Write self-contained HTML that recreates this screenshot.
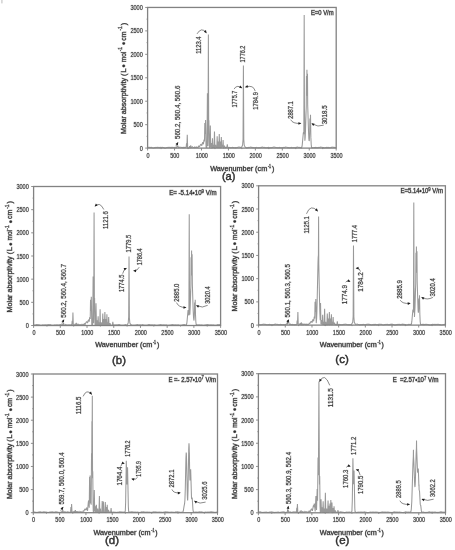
<!DOCTYPE html>
<html><head><meta charset="utf-8"><title>IR spectra</title>
<style>html,body{margin:0;padding:0;background:#fff;width:455px;height:550px;overflow:hidden}svg{display:block}</style>
</head><body>
<svg width="455" height="550" viewBox="0 0 455 550" font-family="'Liberation Sans', Arial, sans-serif" fill="#303030"><rect width="455" height="550" fill="#fff"/>
<rect x="1.2" y="0" width="1.4" height="3.4" fill="#cfcfcf"/>
<polyline points="147.6,147.63 148.35,147.36 149.16,147.51 149.92,147.22 150.64,147.48 151.43,147.38 152.18,147.79 152.93,147.69 153.69,147.95 154.47,147.61 155.25,147.66 156.01,147.27 156.73,147.43 157.51,147.23 158.24,147.54 159.02,147.39 159.78,147.63 160.51,147.34 161.31,147.49 162.07,147.24 162.85,147.57 163.63,147.5 164.36,147.88 165.11,147.72 165.81,147.9 166.62,147.51 167.4,147.55 168.21,147.19 168.94,147.42 169.72,147.26 170.5,147.59 171.2,147.4 172.01,147.61 172.76,147.3 173.55,147.49 174.25,147.3 175,147.66 175.73,147.59 176.21,147.8 176.91,146.7 177.13,146.79 177.43,147.26 177.83,145.52 178.34,147.67 178.85,147.37 179.5,147.46 179.93,147.07 181.12,147.44 181.93,147.32 182.63,147.63 183.41,147.41 184.19,147.59 184.94,147.29 185.78,147.52 186.18,147.41 186.51,143.41 186.86,147.52 187.26,134.88 187.69,147.7 188.04,147.68 188.71,147.94 189.23,147.73 189.63,146.22 190.01,147.68 190.33,147.65 190.71,145.29 191,147.26 191.71,147.38 192.03,147.32 192.33,146.32 192.57,147.15 193.27,147.48 194.18,147.38 194.48,146.79 194.88,147.66 195.56,147.41 195.99,147.5 196.37,146.6 196.72,147.44 197.17,147.31 198.04,147.58 198.58,146.36 198.79,146.13 199.01,146.36 199.3,147.12 200.33,144.94 200.73,144.4 200.95,144.36 201.19,144.52 201.81,145.64 202.37,143.23 202.7,142.51 202.86,142.51 203.02,142.76 203.45,144.24 203.86,140.65 204.1,139.67 204.29,140.03 204.5,141.49 204.8,123.04 205.04,134 205.2,131.22 205.37,133.46 205.58,119.97 206.01,146.04 206.09,147.39 206.82,147.64 207.06,138.32 207.41,93.25 207.9,145.93 208.06,128.53 208.38,34.6 208.71,128.53 208.89,120.26 209.19,141.63 209.38,147.35 209.86,147.59 209.95,146.61 210.32,125.5 210.62,143.89 210.78,147.55 211.29,142.94 211.72,147.4 211.83,147.87 212.07,147.67 212.48,138.21 212.88,147.67 213.02,147.81 213.13,147.66 213.56,144.82 213.93,147.36 214.07,147.36 214.47,131.41 214.88,147.34 215.25,147.14 215.6,144.82 215.98,147.33 216.79,147.26 217.17,136.38 217.57,147.59 217.81,147.63 217.87,147.21 218.19,141.54 218.54,147.47 218.84,147.58 219.27,134.03 219.67,147.48 220,147.37 220.02,147.21 220.35,141.54 220.67,147.21 220.72,147.58 220.91,147.55 221.32,136.97 221.64,146.59 221.69,147.37 221.83,147.53 222.23,144.82 222.72,147.57 223.09,139.99 223.42,147 223.52,147.85 223.66,147.9 223.88,147.59 224.44,145.76 225.06,147.68 225.38,147.65 226.08,147.24 226.89,147.34 227.3,144.35 227.65,147.1 228.29,147.43 229.1,147.35 229.88,147.69 230.64,147.48 231.42,147.66 232.2,147.37 232.87,147.6 233.66,147.45 234.44,147.8 235.19,147.65 235.95,147.87 236.73,147.5 237.51,147.54 238.32,147.14 239.02,147.32 239.8,147.16 240.58,147.54 241.39,147.45 242.57,145.32 243.03,139.44 243.06,137.61 243.41,65.59 243.79,139.44 244.22,145.18 245.21,147.18 245.54,147.56 245.91,147.52 246.67,147.85 247.4,147.64 248.15,147.79 248.91,147.38 249.66,147.43 250.47,147.08 251.2,147.34 251.98,147.24 252.73,147.63 253.49,147.5 254.21,147.75 254.99,147.46 255.78,147.63 256.53,147.39 257.26,147.69 258.04,147.56 258.87,147.86 259.57,147.59 260.36,147.67 261.11,147.25 261.86,147.34 262.62,147.08 263.4,147.41 264.18,147.35 264.94,147.72 265.69,147.54 266.47,147.74 267.23,147.43 268.01,147.62 268.68,147.42 269.46,147.74 270.24,147.59 270.97,147.83 271.78,147.49 272.56,147.54 273.34,147.14 274.04,147.3 274.82,147.13 275.55,147.51 276.33,147.45 277.11,147.79 277.87,147.56 278.65,147.72 279.43,147.41 280.16,147.64 280.94,147.46 281.72,147.78 282.42,147.59 283.2,147.76 283.93,147.38 284.71,147.43 285.52,147.08 286.25,147.32 287,147.22 287.76,147.63 288.54,147.54 289.29,147.82 290.07,147.54 290.86,147.68 291.58,147.4 292.34,147.65 293.15,147.5 293.85,147.79 294.63,147.55 295.33,147.68 296.14,147.26 296.92,147.35 297.67,147.07 298.45,147.4 299.21,147.34 299.96,147.74 300.72,147.6 301.52,147.8 301.93,146.81 302.25,144.87 303.3,133.14 303.44,132.61 303.57,132.62 303.84,134.16 304.19,14.95 304.46,112.09 304.52,110.59 304.6,113.88 304.87,140.77 305.16,137.73 305.46,131.7 306.24,106.43 306.46,76.07 306.62,95.83 306.78,93.1 306.94,69.8 307.1,92.07 307.32,94.77 307.48,73.72 307.69,104.67 308.53,131.95 308.85,138.64 309.12,141.04 309.26,140.79 309.39,139.4 309.66,133.33 309.88,118.45 310.04,123 310.2,121.27 310.36,122.31 310.5,114.81 310.87,137.13 311.2,144.49 311.57,147.53 312.19,147.83 312.92,147.62 313.7,147.78 314.46,147.45 315.24,147.62 315.91,147.4 316.69,147.7 317.47,147.52 318.23,147.73 318.96,147.39 319.76,147.45 320.57,147.1 321.3,147.33 322.06,147.21 322.78,147.62 323.56,147.57 324.35,147.88 325.1,147.61 325.88,147.73 326.64,147.4 327.39,147.61 328.17,147.42 328.9,147.71 329.68,147.5 330.41,147.66 331.16,147.29 331.94,147.38 332.72,147.09 333.48,147.39 334.26,147.34 335.01,147.76 335.74,147.64 336.2,147.81" fill="none" stroke="#999999" stroke-width="1.05" stroke-linejoin="miter" stroke-miterlimit="2"/>
<polyline points="33.6,324.89 34.32,325.14 35.04,324.86 35.82,324.95 36.57,324.57 37.31,324.73 38.03,324.54 38.81,324.93 39.56,324.89 40.41,325.27 41.11,325.06 41.85,325.21 42.63,324.86 43.4,325.01 44.07,324.78 44.85,325.06 45.62,324.89 46.4,325.1 47.09,324.78 47.87,324.87 48.69,324.52 49.39,324.75 50.16,324.64 50.88,325.05 51.66,325 52.41,325.31 53.18,325.04 53.96,325.15 54.73,324.8 55.4,324.99 56.17,324.78 56.92,325.07 57.7,324.87 58.44,325.05 59.19,324.7 59.97,324.8 60.69,324.52 61.49,324.83 62.24,324.76 62.72,324.11 63.17,324.67 63.57,322.95 64.08,325.08 64.32,325.29 64.64,325.28 65.12,325.02 65.66,324.48 66.19,325.02 66.81,324.75 67.53,324.98 68.3,324.8 69.02,325.08 69.8,324.84 70.52,324.98 71.29,324.62 71.85,324.74 72.18,320.87 72.47,324.64 72.63,323.07 72.92,312.43 73.32,324.82 73.67,324.95 74.31,324.89 74.87,325.18 75.27,323.65 75.65,325.1 75.97,325.12 76.34,322.72 76.74,325.22 77.28,324.91 77.63,324.91 77.95,323.74 78.29,324.94 78.88,324.72 79.71,324.98 80.08,324.2 80.4,324.81 81.23,325.05 81.61,324.86 81.95,324.02 82.33,324.87 82.7,324.89 83.37,324.58 83.8,324.68 84.14,323.78 84.36,323.55 85,324.66 86.09,322.37 86.49,321.84 86.71,321.8 86.95,321.96 87.56,323.07 88.12,320.68 88.44,319.97 88.6,319.97 88.77,320.22 89.19,321.68 89.59,318.14 89.83,317.17 90.02,317.53 90.23,318.97 90.53,299.83 90.77,311.06 90.93,308.21 91.09,310.5 91.3,296.68 91.76,323.99 91.84,324.99 92.56,324.83 92.77,316.74 93.12,276.39 93.6,323.34 93.76,306.03 94.08,212.59 94.4,306.03 94.59,297.98 94.88,319.1 95.07,324.71 95.58,324.57 95.63,324.04 96,303.21 96.43,324.84 96.57,324.62 96.97,320.4 97.39,324.81 97.45,325.04 97.71,325.18 97.74,325.09 98.14,316.23 98.54,325.09 98.76,325.16 98.78,325.06 99.21,322.26 99.66,325.16 99.82,322.46 100.12,309.19 100.41,322.46 100.57,325.09 100.81,325.06 101.24,322.26 101.61,324.72 102.39,324.89 102.79,313.59 103.16,324.72 103.46,324.88 103.81,319.01 104.15,324.88 104.47,324.82 104.87,312.02 105.3,325 105.59,324.88 105.94,319.01 106.26,324.62 106.53,324.76 106.9,314.19 107.28,324.65 107.47,324.6 107.81,322.26 108.19,324.8 108.29,324.94 108.67,317.02 109.01,324.69 109.04,324.89 109.42,325.07 110,323.18 110.62,325.13 111.31,325.3 112.03,324.93 112.41,324.93 112.83,321.79 113.24,324.81 113.66,324.66 114.41,324.9 115.11,324.73 115.85,325.03 116.63,324.8 117.4,324.96 118.12,324.64 118.9,324.83 119.59,324.66 120.37,325.05 121.14,325 121.94,325.35 122.67,325.1 123.41,325.21 124.16,324.81 124.94,324.9 125.63,324.63 126.59,324.91 127.21,324.74 128.2,323.1 128.68,316.72 129.02,256.42 129.4,317.97 129.85,323.1 130.87,324.77 131.03,324.88 131.72,324.77 132.47,325.17 133.24,325.09 133.97,325.36 134.77,325.03 135.54,325.08 136.26,324.7 137.01,324.85 137.73,324.63 138.51,324.95 139.28,324.79 140.03,325.03 140.75,324.75 141.55,324.9 142.33,324.65 143.08,324.96 143.85,324.89 144.57,325.28 145.32,325.13 146.01,325.32 146.82,324.93 147.59,324.98 148.39,324.61 149.06,324.82 149.83,324.66 150.58,324.99 151.38,324.81 152.08,325.02 152.85,324.72 153.63,324.9 154.38,324.7 155.12,325.05 155.9,324.99 156.7,325.34 157.42,325.11 158.17,325.22 158.92,324.8 159.66,324.87 160.44,324.57 161.19,324.84 161.99,324.72 162.71,325.03 163.46,324.82 164.23,324.99 164.95,324.7 165.73,324.93 166.45,324.77 167.2,325.15 167.97,325.06 168.72,325.35 169.5,325.04 170.27,325.09 171.02,324.68 171.77,324.8 172.46,324.57 173.24,324.88 174.04,324.77 174.76,325.06 175.56,324.81 176.33,324.98 177.08,324.71 177.8,324.98 178.58,324.87 179.33,325.25 180.07,325.1 180.77,325.31 181.6,324.93 182.37,324.96 183.12,324.58 183.84,324.77 184.62,324.61 185.39,324.96 186.03,324.82 186.41,324.89 186.73,323.73 186.99,321.85 188.04,310.44 188.2,310.13 188.36,310.6 188.86,315.39 188.89,314.86 189.24,214.21 189.48,289.37 189.5,289.92 189.58,288.81 189.64,291.69 189.85,314.72 190.25,306.32 190.89,285.63 191.08,257.27 191.27,275.48 191.43,272.87 191.59,250.58 191.75,271.89 191.96,274.47 192.12,254.33 192.34,283.94 193.19,310.74 193.51,317.13 193.83,320.12 193.91,320.21 193.97,320.1 194.1,319.2 194.39,314.18 194.61,302.59 194.77,306.15 194.93,304.8 195.09,305.58 195.22,299.79 195.52,315.07 195.86,322.04 196.21,324.75 196.66,324.67 197.41,325.02 198.21,324.86 198.91,325.08 199.68,324.79 200.46,324.98 201.21,324.79 201.95,325.13 202.73,325.02 203.48,325.32 204.25,325.03 205,325.1 205.77,324.67 206.49,324.77 207.22,324.52 208.02,324.84 208.82,324.76 209.54,325.09 210.29,324.88 211.06,325.06 211.84,324.78 212.51,325 213.28,324.85 214.06,325.2 214.8,325.06 215.52,325.28 216.33,324.93 217.1,324.96 217.88,324.56 218.6,324.73 219.32,324.55 220.09,324.93 220.6,324.85" fill="none" stroke="#999999" stroke-width="1.05" stroke-linejoin="miter" stroke-miterlimit="2"/>
<polyline points="258.6,324.66 259.21,324.54 260.01,324.88 260.73,324.66 261.46,324.8 262.23,324.38 263,324.43 263.78,324.1 264.52,324.37 265.3,324.27 266.05,324.64 266.77,324.49 267.54,324.72 268.26,324.43 269.03,324.61 269.78,324.4 270.53,324.72 271.3,324.6 272.08,324.89 272.82,324.6 273.57,324.67 274.34,324.24 275.07,324.35 275.81,324.1 276.59,324.44 277.36,324.36 278.11,324.72 278.85,324.52 279.63,324.7 280.4,324.41 281.12,324.62 281.87,324.45 282.59,324.78 283.36,324.63 284.16,324.85 284.89,324.5 285.66,324.54 286.38,324.15 287.23,324.31 287.5,323.77 288.03,320.8 288.27,320.22 288.51,320.8 289.24,324.44 290.01,324.74 290.62,324.08 291.1,324.54 291.58,324.69 292.44,324.4 293.18,324.65 293.96,324.5 294.71,324.82 295.43,324.62 296.09,324.78 296.44,324.68 296.81,324.43 297.13,320.46 297.48,324.43 297.88,312.01 298.25,324.15 298.58,324.1 299.24,324.34 299.96,324.24 300.23,323.24 300.58,324.59 300.92,324.64 301.3,322.31 301.64,324.57 302.07,324.77 302.52,324.71 302.9,323.34 303.22,324.53 303.57,324.65 304.42,324.41 304.71,324.45 305.03,323.8 305.43,324.67 305.97,324.53 306.45,324.73 306.9,323.61 307.3,324.62 308.4,324.63 308.66,324.45 309.25,323.16 309.46,323.28 309.73,323.89 310.61,321.97 311.04,321.42 311.25,321.4 311.49,321.59 312.08,322.66 312.64,320.27 312.99,319.54 313.15,319.58 313.31,319.87 313.71,321.27 314.11,317.72 314.35,316.75 314.53,317.11 314.75,318.56 315.04,301.77 315.28,311.98 315.44,309.39 315.6,311.47 315.81,298.91 316.24,323.11 316.61,318.91 316.93,311.32 317.98,263.63 318.19,257.32 318.43,255.08 318.59,216.45 318.78,263.63 319.5,298.96 319.84,312.13 320.22,320.15 320.54,303.03 320.94,324.21 321.1,324 321.47,319.99 321.87,324.22 322.01,324.29 322.3,324.11 322.65,314.7 323.02,324.34 323.31,324.5 323.71,321.85 324.09,324.4 324.19,324.49 324.22,324.38 324.62,308.71 324.91,322.05 325.07,324.79 325.31,324.66 325.74,321.85 326.19,324.75 326.89,324.52 327.29,313.58 327.69,324.59 327.93,324.63 327.98,324.22 328.3,318.6 328.62,324.22 328.65,324.44 328.97,324.53 329.37,312.1 329.8,324.65 330.09,324.48 330.44,318.6 330.76,324.22 330.84,324.75 331,324.62 331.4,314.16 331.77,324.37 331.93,324.38 332.31,321.85 332.65,324.23 332.68,324.33 332.81,324.25 333.16,317.11 333.48,324.02 333.51,324.18 333.83,324.31 334.01,324.33 334.49,322.78 335,324.39 335.43,324.64 336.18,324.56 336.82,324.84 337.32,321.39 337.75,324.58 338.36,324.72 339.24,324.41 339.96,324.64 340.74,324.46 341.46,324.76 342.23,324.52 342.95,324.67 343.73,324.28 344.47,324.37 345.22,324.09 346.02,324.41 346.77,324.35 347.54,324.77 348.26,324.63 349.04,324.86 349.84,324.53 350.56,324.66 351.17,324.4 351.52,324.43 352.69,322.3 353.12,316.86 353.15,314.99 353.49,245.56 353.87,316.86 354.29,322.3 355.34,324.26 355.44,324.36 355.92,324.18 356.59,324.33 357.31,324.13 358.03,324.5 358.8,324.47 359.63,324.86 360.35,324.66 361.07,324.82 361.82,324.48 362.59,324.62 363.31,324.38 364.09,324.66 364.86,324.49 365.64,324.71 366.38,324.38 367.16,324.47 367.93,324.12 368.63,324.34 369.4,324.22 370.12,324.64 370.89,324.59 371.67,324.91 372.41,324.64 373.19,324.75 373.96,324.41 374.63,324.59 375.4,324.38 376.15,324.67 376.92,324.47 377.67,324.66 378.42,324.31 379.19,324.4 379.94,324.11 380.71,324.41 381.49,324.35 382.23,324.77 382.98,324.67 383.7,324.91 384.5,324.58 385.28,324.67 385.97,324.36 386.74,324.58 387.52,324.4 388.29,324.68 388.96,324.45 389.73,324.59 390.51,324.23 391.28,324.37 391.98,324.15 392.8,324.52 393.55,324.48 394.35,324.88 395.04,324.7 395.79,324.87 396.54,324.51 397.31,324.61 398.06,324.32 398.78,324.57 399.55,324.41 400.35,324.67 401.08,324.39 401.88,324.51 402.62,324.17 403.34,324.38 404.12,324.24 404.84,324.64 405.61,324.6 406.36,324.94 407.13,324.68 407.88,324.79 408.68,324.41 409.37,324.55 410.15,324.31 410.84,324.59 411.22,324.53 411.54,323.46 411.83,321.44 412.84,310.13 412.98,309.71 413.14,309.92 413.46,312.32 413.8,202.38 414.04,285.26 414.07,289.44 414.12,287.95 414.2,291.21 414.47,317 415,307.24 415.73,283.27 415.94,252.78 416.1,272.62 416.26,269.88 416.42,246.49 416.58,268.85 416.79,271.56 416.98,251.18 417.17,281.49 418.07,309.79 418.29,312.38 418.39,312.54 418.5,311.91 418.74,308 418.9,298.63 419.03,301.95 419.22,300.42 419.38,301.65 419.51,295.38 419.86,314.48 420.18,321.48 420.53,324.38 420.82,324.33 421.46,324.51 422.18,324.31 422.93,324.61 423.7,324.41 424.43,324.61 425.2,324.28 425.97,324.43 426.72,324.19 427.49,324.53 428.27,324.48 428.99,324.88 429.76,324.72 430.46,324.91 431.23,324.54 432,324.6 432.75,324.27 433.52,324.5 434.3,324.33 435.07,324.63 435.79,324.4 436.57,324.56 437.29,324.24 438.06,324.43 438.76,324.25 439.53,324.63 440.3,324.59 441.1,324.95 441.82,324.71 442.57,324.82 443.32,324.42 444.09,324.51 444.79,324.24 445.4,324.46" fill="none" stroke="#999999" stroke-width="1.05" stroke-linejoin="miter" stroke-miterlimit="2"/>
<polyline points="33.3,511.83 33.88,512.07 34.62,511.98 35.35,512.39 36.09,512.3 36.8,512.55 37.59,512.22 38.35,512.28 39.09,511.9 39.83,512.07 40.56,511.87 41.27,512.18 42.04,512 42.77,512.22 43.51,511.91 44.27,512.06 44.98,511.83 45.77,512.16 46.54,512.1 47.3,512.5 47.98,512.33 48.75,512.5 49.46,512.12 50.22,512.18 51.01,511.83 51.72,512.06 52.48,511.9 53.25,512.21 53.9,512.01 54.67,512.19 55.43,511.88 56.17,512.07 56.9,511.89 57.64,512.26 58.4,512.2 59.22,512.55 59.9,512.31 60.75,512.38 61.51,511.96 61.96,511.32 62.38,511.8 62.77,509.93 63.19,511.9 63.51,512.06 64.56,512 64.88,511.78 65.35,512.19 65.88,511.99 66.56,512.16 67.38,511.87 68.09,512.11 68.85,511.99 69.61,512.38 70.22,512.28 70.53,512.35 70.93,507.15 71.27,511.86 71.61,503.92 72.01,512.23 72.56,512.29 73.32,511.88 74.03,512.02 74.35,510.85 74.61,511.82 75.11,511.93 75.4,510.16 75.72,512.11 76.24,511.98 76.67,512.14 76.98,511.08 77.3,512.17 77.77,511.98 78.64,512.11 78.8,512.04 79.09,511.54 79.32,511.89 79.9,512.15 80.22,512.16 80.59,512.07 80.93,511.31 81.43,512.46 82.17,512.32 82.51,512.38 83.22,510.88 83.43,510.94 83.72,511.5 84.59,509.58 84.98,509.05 85.19,509.01 85.43,509.17 86.01,510.2 86.43,508.45 86.72,507.98 87.03,508.54 87.56,510.76 88.27,502.64 88.51,501.06 88.64,501.13 88.8,502.13 89.24,507.68 89.59,477 89.8,489.66 89.9,490.13 90.09,475.48 90.4,503.5 90.77,488.2 91.17,504.74 91.53,453.21 91.72,470.37 91.9,421.36 92.09,453.12 92.3,395.73 92.56,478.19 92.69,471.41 92.77,472.37 93.11,505.53 93.24,510.87 93.43,512.53 93.82,512.4 93.95,510.54 94.3,490.09 94.69,511.5 95.09,505.77 95.53,511.97 96.03,512.03 96.06,511.94 96.4,504.79 96.74,511.88 97.06,511.75 97.35,511.8 97.72,508.54 98.11,511.98 98.56,511.89 98.98,512.08 99.4,495.92 99.82,512.1 99.95,511.98 100.35,508.54 100.8,512.24 101.82,511.93 102.19,501 102.59,512.1 103.03,511.97 103.06,511.64 103.4,501.6 103.82,512.35 104.48,512.25 104.87,512.38 104.9,512.23 105.3,502.07 105.72,512.36 105.93,512.26 105.98,511.95 106.3,507.15 106.61,511.95 106.66,512.31 106.87,512.18 107.24,504.79 107.59,511.86 108.09,511.93 108.51,509.93 108.9,511.75 109.77,512.07 110.66,512.02 111.09,508.08 111.53,512.21 112.01,512.05 112.74,512.22 113.51,511.95 114.22,512.2 114.98,512.07 115.72,512.43 116.45,512.29 117.16,512.5 117.95,512.12 118.72,512.15 119.51,511.77 120.16,511.95 120.9,511.78 121.64,512.14 122.4,512.03 123.16,512.31 123.87,512.04 124.45,512.19 125.29,511.35 125.66,502.06 126.29,460.78 126.87,484.54 127.03,482.38 127.4,468.27 127.51,467.18 127.58,468.08 128.35,506.57 128.64,511.48 129.03,511.98 129.4,512.26 129.85,511.99 130.58,512.04 131.37,511.71 132.08,511.97 132.85,511.86 133.56,512.23 134.29,512.09 135.03,512.32 135.77,512.03 136.53,512.21 137.27,511.99 137.98,512.31 138.77,512.2 139.53,512.49 140.27,512.21 141,512.29 141.77,511.86 142.48,511.96 143.21,511.7 143.98,512.03 144.74,511.95 145.48,512.31 146.16,512.12 146.93,512.31 147.66,512.02 148.45,512.22 149.14,512.04 149.9,512.37 150.66,512.23 151.37,512.46 152.16,512.12 152.92,512.16 153.64,511.77 154.4,511.92 155.08,511.74 155.85,512.11 156.61,512.04 157.35,512.36 158.11,512.12 158.87,512.29 159.63,512 160.35,512.24 161.11,512.1 161.87,512.42 162.58,512.23 163.35,512.38 164.03,512.01 164.79,512.05 165.58,511.7 166.29,511.94 167.03,511.83 167.77,512.22 168.53,512.12 169.21,512.39 169.98,512.12 170.77,512.27 171.5,512 172.27,512.28 173.03,512.14 173.77,512.43 174.48,512.18 175.21,512.29 175.95,511.88 176.71,511.96 177.45,511.69 178.21,512.01 178.98,511.95 179.71,512.33 180.42,512.18 181.19,512.39 181.95,512.08 182.58,512.24 182.9,512.19 183.34,510.72 184.08,506.06 184.58,503.72 184.92,500.01 185.29,489.14 185.92,458.83 186.21,452.56 186.37,453.74 186.55,459.1 187.32,495.41 187.53,499.92 187.63,500.41 187.71,499.95 188.05,489.58 188.71,449.54 188.98,443.26 189.16,446.21 189.34,454.2 189.4,452.6 189.42,453.43 189.58,467.53 189.9,479.55 190,480.37 190.13,471.09 190.24,476.81 190.5,470.41 190.61,469.43 190.69,469.74 191.5,498.04 191.69,499.25 192.05,497.56 192.24,498.11 192.95,509.34 193.37,512.21 193.87,512.04 194.61,512.23 195.29,512.04 196.03,512.34 196.79,512.16 197.53,512.36 198.26,512 199.03,512.06 199.82,511.7 200.53,511.93 201.26,511.81 202,512.22 202.74,512.15 203.5,512.45 204.24,512.18 205.03,512.31 205.74,512.01 206.47,512.24 207.24,512.07 207.95,512.36 208.71,512.13 209.42,512.28 210.18,511.89 210.92,511.98 211.66,511.69 212.42,511.99 213.18,511.93 213.92,512.35 214.66,512.23 215.34,512.46 216.11,512.15 216.87,512.27 217.5,512.01" fill="none" stroke="#999999" stroke-width="1.05" stroke-linejoin="miter" stroke-miterlimit="2"/>
<polyline points="258.4,512.14 258.91,511.87 259.66,512.02 260.35,511.83 261.15,512.22 261.93,512.18 262.7,512.54 263.45,512.33 264.23,512.49 264.98,512.15 265.75,512.32 266.42,512.11 267.19,512.4 267.97,512.22 268.69,512.43 269.44,512.09 270.24,512.15 271.04,511.81 271.76,512.04 272.51,511.93 273.26,512.35 274.01,512.28 274.78,512.59 275.53,512.31 276.31,512.43 277.06,512.11 277.8,512.31 278.58,512.13 279.3,512.42 280.08,512.2 280.8,512.36 281.55,511.99 282.32,512.08 283.1,511.8 283.85,512.11 284.62,512.06 285.37,512.47 286.12,512.36 286.71,512.57 287.48,511.42 287.69,511.5 287.99,511.97 288.39,510.25 288.84,512.16 289.22,512.07 289.99,512.31 290.5,511.87 290.88,512.2 291.44,512.41 292.16,512.15 292.93,512.27 293.68,511.9 294.43,512.05 295.13,511.84 295.93,512.22 296.43,512.18 296.78,507.7 297.08,511.85 297.42,503.99 297.85,512.48 298.25,512.38 298.97,512.55 299.78,512.18 300.1,510.95 300.44,512.3 300.84,512.17 301.17,510.25 301.46,512.06 301.91,512.31 302.48,512.17 302.77,511.18 303.09,512.26 303.38,512.38 304.21,512.09 304.61,512.14 304.91,511.64 305.2,512.12 305.79,511.85 306.46,512.06 306.78,511.41 307.05,511.94 307.37,511.96 308.01,512.34 308.3,512.35 308.49,512.3 308.97,511.16 309.18,510.95 309.4,511.16 309.88,512.29 310.31,511.5 311.06,509.5 311.38,509.03 311.59,509.03 311.8,509.29 312.42,510.87 313.3,506.06 313.43,505.85 313.57,505.94 313.89,507.2 314.13,504.42 314.32,503.57 314.53,504.66 315.17,511.55 315.92,496.02 316.53,510.07 317.18,489 317.34,490.91 317.58,500.71 318.03,457.44 318.41,475.34 318.91,381.58 319.47,484.42 319.64,476 319.72,476.85 320.06,506.4 320.33,512.48 320.62,512.41 320.7,511.51 321.05,499.26 321.48,512.36 321.96,507.24 322.39,512.05 322.44,512.3 322.74,512.29 323.14,501.21 323.51,512.04 323.54,512.2 323.86,512.05 324.26,508.63 324.69,512.24 324.95,512.17 325.38,492.72 325.81,512.21 326.16,512.35 326.18,512.24 326.61,508.63 327.01,512.08 327.65,512.26 328.05,500.51 328.43,511.95 328.83,512.02 328.86,511.86 329.18,505.84 329.47,511.5 329.52,511.99 329.63,511.91 329.98,503.53 330.27,511.07 330.43,512.11 330.83,500.05 331.24,512.17 331.56,512.22 331.61,511.82 331.96,502.6 332.25,510.9 332.41,512.57 332.55,512.5 332.6,512.17 332.92,508.16 333.27,512.36 333.32,512.51 333.64,512.51 334.04,506.31 334.42,512.23 334.87,512.25 335.32,510.48 335.73,512.05 336.1,512 336.77,512.24 337.57,512.08 337.94,510.02 338.37,512.34 339.01,512.09 339.79,512.23 340.56,511.9 341.29,512.1 342.06,511.95 342.76,512.34 343.53,512.3 344.31,512.64 345.05,512.4 345.8,512.51 346.55,512.12 347.33,512.22 348.05,511.97 348.8,512.25 349.6,512.09 350.37,512.34 351.28,512.05 351.92,511.35 352.3,500.77 352.91,458.32 353.42,483.52 353.5,484.27 353.58,483.42 353.9,472.24 353.98,470.71 354.03,470.55 354.06,470.76 354.81,507.92 355.02,511.41 355.59,512.03 356.57,512.61 357.16,512.33 357.94,512.39 358.69,512.01 359.43,512.18 360.18,511.97 360.9,512.28 361.68,512.1 362.43,512.32 363.18,512.01 363.95,512.16 364.67,511.92 365.47,512.24 366.25,512.19 366.97,512.58 367.75,512.43 368.41,512.62 369.22,512.24 369.99,512.29 370.79,511.94 371.52,512.16 372.29,512 373.07,512.31 373.73,512.11 374.51,512.29 375.28,511.98 376.03,512.16 376.78,511.97 377.53,512.34 378.3,512.29 379.11,512.64 379.83,512.41 380.58,512.53 381.32,512.12 382.1,512.19 382.85,511.9 383.62,512.18 384.4,512.04 385.12,512.33 385.87,512.09 386.64,512.26 387.37,511.96 388.14,512.2 388.84,512.06 389.64,512.46 390.39,512.37 391.13,512.66 391.94,512.34 392.68,512.4 393.43,512 394.18,512.12 394.9,511.9 395.65,512.21 396.45,512.08 397.2,512.35 397.92,512.08 398.7,512.24 399.5,511.98 400.22,512.26 401,512.17 401.75,512.56 402.49,512.42 403.19,512.62 404.02,512.24 404.79,512.27 405.54,511.9 406.29,512.1 407.04,511.93 407.81,512.27 408.53,512.11 409.31,512.35 410.08,512.06 410.67,512.22 411.02,511.1 411.31,509 411.8,501.49 412.92,464.4 413.32,456.57 413.43,449.74 413.53,456.48 413.88,462.34 414.55,481.95 414.76,485.88 414.98,487.04 415.06,483.53 415.16,485.47 415.4,480.07 416.1,454.77 416.42,448.13 416.53,440.47 416.63,448.22 417.54,471.71 417.73,472.66 418.13,468.74 418.24,468.51 418.32,469.07 418.91,486.2 419.01,484.45 419.09,489.48 419.2,490.15 419.44,490.67 419.57,491.76 420.24,504.14 420.38,504.91 420.67,505.33 420.8,505.84 421.36,510.75 421.66,512.25 422.14,512.04 422.89,512.25 423.64,512.07 424.38,512.43 425.16,512.34 425.96,512.63 426.68,512.34 427.46,512.4 428.21,511.98 428.96,512.09 429.68,511.84 430.48,512.16 431.25,512.06 431.95,512.37 432.72,512.15 433.5,512.32 434.27,512.04 435,512.29 435.77,512.16 436.52,512.52 437.27,512.38 437.99,512.6 438.79,512.24 439.57,512.27 440.26,511.89 441.04,512.05 441.73,511.87 442.59,512.24 443.31,512.12 444.08,512.4 444.86,512.14 445.5,512.31" fill="none" stroke="#999999" stroke-width="1.05" stroke-linejoin="miter" stroke-miterlimit="2"/>
<rect x="147.6" y="7.45" width="188.6" height="140.65" fill="none" stroke="#828282" stroke-width="1.3"/>
<line x1="147.6" y1="148.1" x2="147.6" y2="150.5" stroke="#828282" stroke-width="0.9"/>
<text x="147.9" y="157.6" font-size="6.5" text-anchor="middle" textLength="3.05" lengthAdjust="spacingAndGlyphs" stroke="#303030" stroke-width="0.7" stroke-opacity="0.3" paint-order="stroke">0</text>
<line x1="161.07" y1="148.1" x2="161.07" y2="149.1" stroke="#828282" stroke-width="0.9"/>
<line x1="174.54" y1="148.1" x2="174.54" y2="150.5" stroke="#828282" stroke-width="0.9"/>
<text x="174.84" y="157.6" font-size="6.5" text-anchor="middle" textLength="9.15" lengthAdjust="spacingAndGlyphs" stroke="#303030" stroke-width="0.7" stroke-opacity="0.3" paint-order="stroke">500</text>
<line x1="188.01" y1="148.1" x2="188.01" y2="149.1" stroke="#828282" stroke-width="0.9"/>
<line x1="201.49" y1="148.1" x2="201.49" y2="150.5" stroke="#828282" stroke-width="0.9"/>
<text x="201.79" y="157.6" font-size="6.5" text-anchor="middle" textLength="12.2" lengthAdjust="spacingAndGlyphs" stroke="#303030" stroke-width="0.7" stroke-opacity="0.3" paint-order="stroke">1000</text>
<line x1="214.96" y1="148.1" x2="214.96" y2="149.1" stroke="#828282" stroke-width="0.9"/>
<line x1="228.43" y1="148.1" x2="228.43" y2="150.5" stroke="#828282" stroke-width="0.9"/>
<text x="228.73" y="157.6" font-size="6.5" text-anchor="middle" textLength="12.2" lengthAdjust="spacingAndGlyphs" stroke="#303030" stroke-width="0.7" stroke-opacity="0.3" paint-order="stroke">1500</text>
<line x1="241.9" y1="148.1" x2="241.9" y2="149.1" stroke="#828282" stroke-width="0.9"/>
<line x1="255.37" y1="148.1" x2="255.37" y2="150.5" stroke="#828282" stroke-width="0.9"/>
<text x="255.67" y="157.6" font-size="6.5" text-anchor="middle" textLength="12.2" lengthAdjust="spacingAndGlyphs" stroke="#303030" stroke-width="0.7" stroke-opacity="0.3" paint-order="stroke">2000</text>
<line x1="268.84" y1="148.1" x2="268.84" y2="149.1" stroke="#828282" stroke-width="0.9"/>
<line x1="282.31" y1="148.1" x2="282.31" y2="150.5" stroke="#828282" stroke-width="0.9"/>
<text x="282.61" y="157.6" font-size="6.5" text-anchor="middle" textLength="12.2" lengthAdjust="spacingAndGlyphs" stroke="#303030" stroke-width="0.7" stroke-opacity="0.3" paint-order="stroke">2500</text>
<line x1="295.79" y1="148.1" x2="295.79" y2="149.1" stroke="#828282" stroke-width="0.9"/>
<line x1="309.26" y1="148.1" x2="309.26" y2="150.5" stroke="#828282" stroke-width="0.9"/>
<text x="309.56" y="157.6" font-size="6.5" text-anchor="middle" textLength="12.2" lengthAdjust="spacingAndGlyphs" stroke="#303030" stroke-width="0.7" stroke-opacity="0.3" paint-order="stroke">3000</text>
<line x1="322.73" y1="148.1" x2="322.73" y2="149.1" stroke="#828282" stroke-width="0.9"/>
<line x1="336.2" y1="148.1" x2="336.2" y2="150.5" stroke="#828282" stroke-width="0.9"/>
<text x="336.5" y="157.6" font-size="6.5" text-anchor="middle" textLength="12.2" lengthAdjust="spacingAndGlyphs" stroke="#303030" stroke-width="0.7" stroke-opacity="0.3" paint-order="stroke">3500</text>
<line x1="147.6" y1="148.1" x2="145.2" y2="148.1" stroke="#828282" stroke-width="0.9"/>
<text x="142.8" y="150.7" font-size="6.5" text-anchor="end" textLength="3.1" lengthAdjust="spacingAndGlyphs" stroke="#303030" stroke-width="0.7" stroke-opacity="0.3" paint-order="stroke">0</text>
<line x1="147.6" y1="136.38" x2="146.6" y2="136.38" stroke="#828282" stroke-width="0.9"/>
<line x1="147.6" y1="124.66" x2="145.2" y2="124.66" stroke="#828282" stroke-width="0.9"/>
<text x="142.8" y="127.26" font-size="6.5" text-anchor="end" textLength="9.3" lengthAdjust="spacingAndGlyphs" stroke="#303030" stroke-width="0.7" stroke-opacity="0.3" paint-order="stroke">500</text>
<line x1="147.6" y1="112.94" x2="146.6" y2="112.94" stroke="#828282" stroke-width="0.9"/>
<line x1="147.6" y1="101.22" x2="145.2" y2="101.22" stroke="#828282" stroke-width="0.9"/>
<text x="142.8" y="103.82" font-size="6.5" text-anchor="end" textLength="12.4" lengthAdjust="spacingAndGlyphs" stroke="#303030" stroke-width="0.7" stroke-opacity="0.3" paint-order="stroke">1000</text>
<line x1="147.6" y1="89.5" x2="146.6" y2="89.5" stroke="#828282" stroke-width="0.9"/>
<line x1="147.6" y1="77.77" x2="145.2" y2="77.77" stroke="#828282" stroke-width="0.9"/>
<text x="142.8" y="80.37" font-size="6.5" text-anchor="end" textLength="12.4" lengthAdjust="spacingAndGlyphs" stroke="#303030" stroke-width="0.7" stroke-opacity="0.3" paint-order="stroke">1500</text>
<line x1="147.6" y1="66.05" x2="146.6" y2="66.05" stroke="#828282" stroke-width="0.9"/>
<line x1="147.6" y1="54.33" x2="145.2" y2="54.33" stroke="#828282" stroke-width="0.9"/>
<text x="142.8" y="56.93" font-size="6.5" text-anchor="end" textLength="12.4" lengthAdjust="spacingAndGlyphs" stroke="#303030" stroke-width="0.7" stroke-opacity="0.3" paint-order="stroke">2000</text>
<line x1="147.6" y1="42.61" x2="146.6" y2="42.61" stroke="#828282" stroke-width="0.9"/>
<line x1="147.6" y1="30.89" x2="145.2" y2="30.89" stroke="#828282" stroke-width="0.9"/>
<text x="142.8" y="33.49" font-size="6.5" text-anchor="end" textLength="12.4" lengthAdjust="spacingAndGlyphs" stroke="#303030" stroke-width="0.7" stroke-opacity="0.3" paint-order="stroke">2500</text>
<line x1="147.6" y1="19.17" x2="146.6" y2="19.17" stroke="#828282" stroke-width="0.9"/>
<line x1="147.6" y1="7.45" x2="145.2" y2="7.45" stroke="#828282" stroke-width="0.9"/>
<text x="142.8" y="10.05" font-size="6.5" text-anchor="end" textLength="12.4" lengthAdjust="spacingAndGlyphs" stroke="#303030" stroke-width="0.7" stroke-opacity="0.3" paint-order="stroke">3000</text>
<rect x="33.6" y="186.5" width="187" height="139" fill="none" stroke="#828282" stroke-width="1.3"/>
<line x1="33.6" y1="325.5" x2="33.6" y2="327.9" stroke="#828282" stroke-width="0.9"/>
<text x="33.9" y="335" font-size="6.5" text-anchor="middle" textLength="3.05" lengthAdjust="spacingAndGlyphs" stroke="#303030" stroke-width="0.7" stroke-opacity="0.3" paint-order="stroke">0</text>
<line x1="46.96" y1="325.5" x2="46.96" y2="326.5" stroke="#828282" stroke-width="0.9"/>
<line x1="60.31" y1="325.5" x2="60.31" y2="327.9" stroke="#828282" stroke-width="0.9"/>
<text x="60.61" y="335" font-size="6.5" text-anchor="middle" textLength="9.15" lengthAdjust="spacingAndGlyphs" stroke="#303030" stroke-width="0.7" stroke-opacity="0.3" paint-order="stroke">500</text>
<line x1="73.67" y1="325.5" x2="73.67" y2="326.5" stroke="#828282" stroke-width="0.9"/>
<line x1="87.03" y1="325.5" x2="87.03" y2="327.9" stroke="#828282" stroke-width="0.9"/>
<text x="87.33" y="335" font-size="6.5" text-anchor="middle" textLength="12.2" lengthAdjust="spacingAndGlyphs" stroke="#303030" stroke-width="0.7" stroke-opacity="0.3" paint-order="stroke">1000</text>
<line x1="100.39" y1="325.5" x2="100.39" y2="326.5" stroke="#828282" stroke-width="0.9"/>
<line x1="113.74" y1="325.5" x2="113.74" y2="327.9" stroke="#828282" stroke-width="0.9"/>
<text x="114.04" y="335" font-size="6.5" text-anchor="middle" textLength="12.2" lengthAdjust="spacingAndGlyphs" stroke="#303030" stroke-width="0.7" stroke-opacity="0.3" paint-order="stroke">1500</text>
<line x1="127.1" y1="325.5" x2="127.1" y2="326.5" stroke="#828282" stroke-width="0.9"/>
<line x1="140.46" y1="325.5" x2="140.46" y2="327.9" stroke="#828282" stroke-width="0.9"/>
<text x="140.76" y="335" font-size="6.5" text-anchor="middle" textLength="12.2" lengthAdjust="spacingAndGlyphs" stroke="#303030" stroke-width="0.7" stroke-opacity="0.3" paint-order="stroke">2000</text>
<line x1="153.81" y1="325.5" x2="153.81" y2="326.5" stroke="#828282" stroke-width="0.9"/>
<line x1="167.17" y1="325.5" x2="167.17" y2="327.9" stroke="#828282" stroke-width="0.9"/>
<text x="167.47" y="335" font-size="6.5" text-anchor="middle" textLength="12.2" lengthAdjust="spacingAndGlyphs" stroke="#303030" stroke-width="0.7" stroke-opacity="0.3" paint-order="stroke">2500</text>
<line x1="180.53" y1="325.5" x2="180.53" y2="326.5" stroke="#828282" stroke-width="0.9"/>
<line x1="193.89" y1="325.5" x2="193.89" y2="327.9" stroke="#828282" stroke-width="0.9"/>
<text x="194.19" y="335" font-size="6.5" text-anchor="middle" textLength="12.2" lengthAdjust="spacingAndGlyphs" stroke="#303030" stroke-width="0.7" stroke-opacity="0.3" paint-order="stroke">3000</text>
<line x1="207.24" y1="325.5" x2="207.24" y2="326.5" stroke="#828282" stroke-width="0.9"/>
<line x1="220.6" y1="325.5" x2="220.6" y2="327.9" stroke="#828282" stroke-width="0.9"/>
<text x="220.9" y="335" font-size="6.5" text-anchor="middle" textLength="12.2" lengthAdjust="spacingAndGlyphs" stroke="#303030" stroke-width="0.7" stroke-opacity="0.3" paint-order="stroke">3500</text>
<line x1="33.6" y1="325.5" x2="31.2" y2="325.5" stroke="#828282" stroke-width="0.9"/>
<text x="28.8" y="328.1" font-size="6.5" text-anchor="end" textLength="3.1" lengthAdjust="spacingAndGlyphs" stroke="#303030" stroke-width="0.7" stroke-opacity="0.3" paint-order="stroke">0</text>
<line x1="33.6" y1="313.92" x2="32.6" y2="313.92" stroke="#828282" stroke-width="0.9"/>
<line x1="33.6" y1="302.33" x2="31.2" y2="302.33" stroke="#828282" stroke-width="0.9"/>
<text x="28.8" y="304.93" font-size="6.5" text-anchor="end" textLength="9.3" lengthAdjust="spacingAndGlyphs" stroke="#303030" stroke-width="0.7" stroke-opacity="0.3" paint-order="stroke">500</text>
<line x1="33.6" y1="290.75" x2="32.6" y2="290.75" stroke="#828282" stroke-width="0.9"/>
<line x1="33.6" y1="279.17" x2="31.2" y2="279.17" stroke="#828282" stroke-width="0.9"/>
<text x="28.8" y="281.77" font-size="6.5" text-anchor="end" textLength="12.4" lengthAdjust="spacingAndGlyphs" stroke="#303030" stroke-width="0.7" stroke-opacity="0.3" paint-order="stroke">1000</text>
<line x1="33.6" y1="267.58" x2="32.6" y2="267.58" stroke="#828282" stroke-width="0.9"/>
<line x1="33.6" y1="256" x2="31.2" y2="256" stroke="#828282" stroke-width="0.9"/>
<text x="28.8" y="258.6" font-size="6.5" text-anchor="end" textLength="12.4" lengthAdjust="spacingAndGlyphs" stroke="#303030" stroke-width="0.7" stroke-opacity="0.3" paint-order="stroke">1500</text>
<line x1="33.6" y1="244.42" x2="32.6" y2="244.42" stroke="#828282" stroke-width="0.9"/>
<line x1="33.6" y1="232.83" x2="31.2" y2="232.83" stroke="#828282" stroke-width="0.9"/>
<text x="28.8" y="235.43" font-size="6.5" text-anchor="end" textLength="12.4" lengthAdjust="spacingAndGlyphs" stroke="#303030" stroke-width="0.7" stroke-opacity="0.3" paint-order="stroke">2000</text>
<line x1="33.6" y1="221.25" x2="32.6" y2="221.25" stroke="#828282" stroke-width="0.9"/>
<line x1="33.6" y1="209.67" x2="31.2" y2="209.67" stroke="#828282" stroke-width="0.9"/>
<text x="28.8" y="212.27" font-size="6.5" text-anchor="end" textLength="12.4" lengthAdjust="spacingAndGlyphs" stroke="#303030" stroke-width="0.7" stroke-opacity="0.3" paint-order="stroke">2500</text>
<line x1="33.6" y1="198.08" x2="32.6" y2="198.08" stroke="#828282" stroke-width="0.9"/>
<line x1="33.6" y1="186.5" x2="31.2" y2="186.5" stroke="#828282" stroke-width="0.9"/>
<text x="28.8" y="189.1" font-size="6.5" text-anchor="end" textLength="12.4" lengthAdjust="spacingAndGlyphs" stroke="#303030" stroke-width="0.7" stroke-opacity="0.3" paint-order="stroke">3000</text>
<rect x="258.6" y="185.8" width="186.8" height="139.3" fill="none" stroke="#828282" stroke-width="1.3"/>
<line x1="258.6" y1="325.1" x2="258.6" y2="327.5" stroke="#828282" stroke-width="0.9"/>
<text x="258.9" y="334.6" font-size="6.5" text-anchor="middle" textLength="3.05" lengthAdjust="spacingAndGlyphs" stroke="#303030" stroke-width="0.7" stroke-opacity="0.3" paint-order="stroke">0</text>
<line x1="271.94" y1="325.1" x2="271.94" y2="326.1" stroke="#828282" stroke-width="0.9"/>
<line x1="285.29" y1="325.1" x2="285.29" y2="327.5" stroke="#828282" stroke-width="0.9"/>
<text x="285.59" y="334.6" font-size="6.5" text-anchor="middle" textLength="9.15" lengthAdjust="spacingAndGlyphs" stroke="#303030" stroke-width="0.7" stroke-opacity="0.3" paint-order="stroke">500</text>
<line x1="298.63" y1="325.1" x2="298.63" y2="326.1" stroke="#828282" stroke-width="0.9"/>
<line x1="311.97" y1="325.1" x2="311.97" y2="327.5" stroke="#828282" stroke-width="0.9"/>
<text x="312.27" y="334.6" font-size="6.5" text-anchor="middle" textLength="12.2" lengthAdjust="spacingAndGlyphs" stroke="#303030" stroke-width="0.7" stroke-opacity="0.3" paint-order="stroke">1000</text>
<line x1="325.31" y1="325.1" x2="325.31" y2="326.1" stroke="#828282" stroke-width="0.9"/>
<line x1="338.66" y1="325.1" x2="338.66" y2="327.5" stroke="#828282" stroke-width="0.9"/>
<text x="338.96" y="334.6" font-size="6.5" text-anchor="middle" textLength="12.2" lengthAdjust="spacingAndGlyphs" stroke="#303030" stroke-width="0.7" stroke-opacity="0.3" paint-order="stroke">1500</text>
<line x1="352" y1="325.1" x2="352" y2="326.1" stroke="#828282" stroke-width="0.9"/>
<line x1="365.34" y1="325.1" x2="365.34" y2="327.5" stroke="#828282" stroke-width="0.9"/>
<text x="365.64" y="334.6" font-size="6.5" text-anchor="middle" textLength="12.2" lengthAdjust="spacingAndGlyphs" stroke="#303030" stroke-width="0.7" stroke-opacity="0.3" paint-order="stroke">2000</text>
<line x1="378.69" y1="325.1" x2="378.69" y2="326.1" stroke="#828282" stroke-width="0.9"/>
<line x1="392.03" y1="325.1" x2="392.03" y2="327.5" stroke="#828282" stroke-width="0.9"/>
<text x="392.33" y="334.6" font-size="6.5" text-anchor="middle" textLength="12.2" lengthAdjust="spacingAndGlyphs" stroke="#303030" stroke-width="0.7" stroke-opacity="0.3" paint-order="stroke">2500</text>
<line x1="405.37" y1="325.1" x2="405.37" y2="326.1" stroke="#828282" stroke-width="0.9"/>
<line x1="418.71" y1="325.1" x2="418.71" y2="327.5" stroke="#828282" stroke-width="0.9"/>
<text x="419.01" y="334.6" font-size="6.5" text-anchor="middle" textLength="12.2" lengthAdjust="spacingAndGlyphs" stroke="#303030" stroke-width="0.7" stroke-opacity="0.3" paint-order="stroke">3000</text>
<line x1="432.06" y1="325.1" x2="432.06" y2="326.1" stroke="#828282" stroke-width="0.9"/>
<line x1="445.4" y1="325.1" x2="445.4" y2="327.5" stroke="#828282" stroke-width="0.9"/>
<text x="445.7" y="334.6" font-size="6.5" text-anchor="middle" textLength="12.2" lengthAdjust="spacingAndGlyphs" stroke="#303030" stroke-width="0.7" stroke-opacity="0.3" paint-order="stroke">3500</text>
<line x1="258.6" y1="325.1" x2="256.2" y2="325.1" stroke="#828282" stroke-width="0.9"/>
<text x="253.8" y="327.7" font-size="6.5" text-anchor="end" textLength="3.1" lengthAdjust="spacingAndGlyphs" stroke="#303030" stroke-width="0.7" stroke-opacity="0.3" paint-order="stroke">0</text>
<line x1="258.6" y1="313.49" x2="257.6" y2="313.49" stroke="#828282" stroke-width="0.9"/>
<line x1="258.6" y1="301.88" x2="256.2" y2="301.88" stroke="#828282" stroke-width="0.9"/>
<text x="253.8" y="304.48" font-size="6.5" text-anchor="end" textLength="9.3" lengthAdjust="spacingAndGlyphs" stroke="#303030" stroke-width="0.7" stroke-opacity="0.3" paint-order="stroke">500</text>
<line x1="258.6" y1="290.28" x2="257.6" y2="290.28" stroke="#828282" stroke-width="0.9"/>
<line x1="258.6" y1="278.67" x2="256.2" y2="278.67" stroke="#828282" stroke-width="0.9"/>
<text x="253.8" y="281.27" font-size="6.5" text-anchor="end" textLength="12.4" lengthAdjust="spacingAndGlyphs" stroke="#303030" stroke-width="0.7" stroke-opacity="0.3" paint-order="stroke">1000</text>
<line x1="258.6" y1="267.06" x2="257.6" y2="267.06" stroke="#828282" stroke-width="0.9"/>
<line x1="258.6" y1="255.45" x2="256.2" y2="255.45" stroke="#828282" stroke-width="0.9"/>
<text x="253.8" y="258.05" font-size="6.5" text-anchor="end" textLength="12.4" lengthAdjust="spacingAndGlyphs" stroke="#303030" stroke-width="0.7" stroke-opacity="0.3" paint-order="stroke">1500</text>
<line x1="258.6" y1="243.84" x2="257.6" y2="243.84" stroke="#828282" stroke-width="0.9"/>
<line x1="258.6" y1="232.23" x2="256.2" y2="232.23" stroke="#828282" stroke-width="0.9"/>
<text x="253.8" y="234.83" font-size="6.5" text-anchor="end" textLength="12.4" lengthAdjust="spacingAndGlyphs" stroke="#303030" stroke-width="0.7" stroke-opacity="0.3" paint-order="stroke">2000</text>
<line x1="258.6" y1="220.63" x2="257.6" y2="220.63" stroke="#828282" stroke-width="0.9"/>
<line x1="258.6" y1="209.02" x2="256.2" y2="209.02" stroke="#828282" stroke-width="0.9"/>
<text x="253.8" y="211.62" font-size="6.5" text-anchor="end" textLength="12.4" lengthAdjust="spacingAndGlyphs" stroke="#303030" stroke-width="0.7" stroke-opacity="0.3" paint-order="stroke">2500</text>
<line x1="258.6" y1="197.41" x2="257.6" y2="197.41" stroke="#828282" stroke-width="0.9"/>
<line x1="258.6" y1="185.8" x2="256.2" y2="185.8" stroke="#828282" stroke-width="0.9"/>
<text x="253.8" y="188.4" font-size="6.5" text-anchor="end" textLength="12.4" lengthAdjust="spacingAndGlyphs" stroke="#303030" stroke-width="0.7" stroke-opacity="0.3" paint-order="stroke">3000</text>
<rect x="33.3" y="374" width="184.2" height="138.7" fill="none" stroke="#828282" stroke-width="1.3"/>
<line x1="33.3" y1="512.7" x2="33.3" y2="515.1" stroke="#828282" stroke-width="0.9"/>
<text x="33.6" y="522.2" font-size="6.5" text-anchor="middle" textLength="3.05" lengthAdjust="spacingAndGlyphs" stroke="#303030" stroke-width="0.7" stroke-opacity="0.3" paint-order="stroke">0</text>
<line x1="46.46" y1="512.7" x2="46.46" y2="513.7" stroke="#828282" stroke-width="0.9"/>
<line x1="59.61" y1="512.7" x2="59.61" y2="515.1" stroke="#828282" stroke-width="0.9"/>
<text x="59.91" y="522.2" font-size="6.5" text-anchor="middle" textLength="9.15" lengthAdjust="spacingAndGlyphs" stroke="#303030" stroke-width="0.7" stroke-opacity="0.3" paint-order="stroke">500</text>
<line x1="72.77" y1="512.7" x2="72.77" y2="513.7" stroke="#828282" stroke-width="0.9"/>
<line x1="85.93" y1="512.7" x2="85.93" y2="515.1" stroke="#828282" stroke-width="0.9"/>
<text x="86.23" y="522.2" font-size="6.5" text-anchor="middle" textLength="12.2" lengthAdjust="spacingAndGlyphs" stroke="#303030" stroke-width="0.7" stroke-opacity="0.3" paint-order="stroke">1000</text>
<line x1="99.09" y1="512.7" x2="99.09" y2="513.7" stroke="#828282" stroke-width="0.9"/>
<line x1="112.24" y1="512.7" x2="112.24" y2="515.1" stroke="#828282" stroke-width="0.9"/>
<text x="112.54" y="522.2" font-size="6.5" text-anchor="middle" textLength="12.2" lengthAdjust="spacingAndGlyphs" stroke="#303030" stroke-width="0.7" stroke-opacity="0.3" paint-order="stroke">1500</text>
<line x1="125.4" y1="512.7" x2="125.4" y2="513.7" stroke="#828282" stroke-width="0.9"/>
<line x1="138.56" y1="512.7" x2="138.56" y2="515.1" stroke="#828282" stroke-width="0.9"/>
<text x="138.86" y="522.2" font-size="6.5" text-anchor="middle" textLength="12.2" lengthAdjust="spacingAndGlyphs" stroke="#303030" stroke-width="0.7" stroke-opacity="0.3" paint-order="stroke">2000</text>
<line x1="151.71" y1="512.7" x2="151.71" y2="513.7" stroke="#828282" stroke-width="0.9"/>
<line x1="164.87" y1="512.7" x2="164.87" y2="515.1" stroke="#828282" stroke-width="0.9"/>
<text x="165.17" y="522.2" font-size="6.5" text-anchor="middle" textLength="12.2" lengthAdjust="spacingAndGlyphs" stroke="#303030" stroke-width="0.7" stroke-opacity="0.3" paint-order="stroke">2500</text>
<line x1="178.03" y1="512.7" x2="178.03" y2="513.7" stroke="#828282" stroke-width="0.9"/>
<line x1="191.19" y1="512.7" x2="191.19" y2="515.1" stroke="#828282" stroke-width="0.9"/>
<text x="191.49" y="522.2" font-size="6.5" text-anchor="middle" textLength="12.2" lengthAdjust="spacingAndGlyphs" stroke="#303030" stroke-width="0.7" stroke-opacity="0.3" paint-order="stroke">3000</text>
<line x1="204.34" y1="512.7" x2="204.34" y2="513.7" stroke="#828282" stroke-width="0.9"/>
<line x1="217.5" y1="512.7" x2="217.5" y2="515.1" stroke="#828282" stroke-width="0.9"/>
<text x="217.8" y="522.2" font-size="6.5" text-anchor="middle" textLength="12.2" lengthAdjust="spacingAndGlyphs" stroke="#303030" stroke-width="0.7" stroke-opacity="0.3" paint-order="stroke">3500</text>
<line x1="33.3" y1="512.7" x2="30.9" y2="512.7" stroke="#828282" stroke-width="0.9"/>
<text x="28.5" y="515.3" font-size="6.5" text-anchor="end" textLength="3.1" lengthAdjust="spacingAndGlyphs" stroke="#303030" stroke-width="0.7" stroke-opacity="0.3" paint-order="stroke">0</text>
<line x1="33.3" y1="501.14" x2="32.3" y2="501.14" stroke="#828282" stroke-width="0.9"/>
<line x1="33.3" y1="489.58" x2="30.9" y2="489.58" stroke="#828282" stroke-width="0.9"/>
<text x="28.5" y="492.18" font-size="6.5" text-anchor="end" textLength="9.3" lengthAdjust="spacingAndGlyphs" stroke="#303030" stroke-width="0.7" stroke-opacity="0.3" paint-order="stroke">500</text>
<line x1="33.3" y1="478.03" x2="32.3" y2="478.03" stroke="#828282" stroke-width="0.9"/>
<line x1="33.3" y1="466.47" x2="30.9" y2="466.47" stroke="#828282" stroke-width="0.9"/>
<text x="28.5" y="469.07" font-size="6.5" text-anchor="end" textLength="12.4" lengthAdjust="spacingAndGlyphs" stroke="#303030" stroke-width="0.7" stroke-opacity="0.3" paint-order="stroke">1000</text>
<line x1="33.3" y1="454.91" x2="32.3" y2="454.91" stroke="#828282" stroke-width="0.9"/>
<line x1="33.3" y1="443.35" x2="30.9" y2="443.35" stroke="#828282" stroke-width="0.9"/>
<text x="28.5" y="445.95" font-size="6.5" text-anchor="end" textLength="12.4" lengthAdjust="spacingAndGlyphs" stroke="#303030" stroke-width="0.7" stroke-opacity="0.3" paint-order="stroke">1500</text>
<line x1="33.3" y1="431.79" x2="32.3" y2="431.79" stroke="#828282" stroke-width="0.9"/>
<line x1="33.3" y1="420.23" x2="30.9" y2="420.23" stroke="#828282" stroke-width="0.9"/>
<text x="28.5" y="422.83" font-size="6.5" text-anchor="end" textLength="12.4" lengthAdjust="spacingAndGlyphs" stroke="#303030" stroke-width="0.7" stroke-opacity="0.3" paint-order="stroke">2000</text>
<line x1="33.3" y1="408.68" x2="32.3" y2="408.68" stroke="#828282" stroke-width="0.9"/>
<line x1="33.3" y1="397.12" x2="30.9" y2="397.12" stroke="#828282" stroke-width="0.9"/>
<text x="28.5" y="399.72" font-size="6.5" text-anchor="end" textLength="12.4" lengthAdjust="spacingAndGlyphs" stroke="#303030" stroke-width="0.7" stroke-opacity="0.3" paint-order="stroke">2500</text>
<line x1="33.3" y1="385.56" x2="32.3" y2="385.56" stroke="#828282" stroke-width="0.9"/>
<line x1="33.3" y1="374" x2="30.9" y2="374" stroke="#828282" stroke-width="0.9"/>
<text x="28.5" y="376.6" font-size="6.5" text-anchor="end" textLength="12.4" lengthAdjust="spacingAndGlyphs" stroke="#303030" stroke-width="0.7" stroke-opacity="0.3" paint-order="stroke">3000</text>
<rect x="258.4" y="373.7" width="187.1" height="139.1" fill="none" stroke="#828282" stroke-width="1.3"/>
<line x1="258.4" y1="512.8" x2="258.4" y2="515.2" stroke="#828282" stroke-width="0.9"/>
<text x="258.7" y="522.3" font-size="6.5" text-anchor="middle" textLength="3.05" lengthAdjust="spacingAndGlyphs" stroke="#303030" stroke-width="0.7" stroke-opacity="0.3" paint-order="stroke">0</text>
<line x1="271.76" y1="512.8" x2="271.76" y2="513.8" stroke="#828282" stroke-width="0.9"/>
<line x1="285.13" y1="512.8" x2="285.13" y2="515.2" stroke="#828282" stroke-width="0.9"/>
<text x="285.43" y="522.3" font-size="6.5" text-anchor="middle" textLength="9.15" lengthAdjust="spacingAndGlyphs" stroke="#303030" stroke-width="0.7" stroke-opacity="0.3" paint-order="stroke">500</text>
<line x1="298.49" y1="512.8" x2="298.49" y2="513.8" stroke="#828282" stroke-width="0.9"/>
<line x1="311.86" y1="512.8" x2="311.86" y2="515.2" stroke="#828282" stroke-width="0.9"/>
<text x="312.16" y="522.3" font-size="6.5" text-anchor="middle" textLength="12.2" lengthAdjust="spacingAndGlyphs" stroke="#303030" stroke-width="0.7" stroke-opacity="0.3" paint-order="stroke">1000</text>
<line x1="325.22" y1="512.8" x2="325.22" y2="513.8" stroke="#828282" stroke-width="0.9"/>
<line x1="338.59" y1="512.8" x2="338.59" y2="515.2" stroke="#828282" stroke-width="0.9"/>
<text x="338.89" y="522.3" font-size="6.5" text-anchor="middle" textLength="12.2" lengthAdjust="spacingAndGlyphs" stroke="#303030" stroke-width="0.7" stroke-opacity="0.3" paint-order="stroke">1500</text>
<line x1="351.95" y1="512.8" x2="351.95" y2="513.8" stroke="#828282" stroke-width="0.9"/>
<line x1="365.31" y1="512.8" x2="365.31" y2="515.2" stroke="#828282" stroke-width="0.9"/>
<text x="365.61" y="522.3" font-size="6.5" text-anchor="middle" textLength="12.2" lengthAdjust="spacingAndGlyphs" stroke="#303030" stroke-width="0.7" stroke-opacity="0.3" paint-order="stroke">2000</text>
<line x1="378.68" y1="512.8" x2="378.68" y2="513.8" stroke="#828282" stroke-width="0.9"/>
<line x1="392.04" y1="512.8" x2="392.04" y2="515.2" stroke="#828282" stroke-width="0.9"/>
<text x="392.34" y="522.3" font-size="6.5" text-anchor="middle" textLength="12.2" lengthAdjust="spacingAndGlyphs" stroke="#303030" stroke-width="0.7" stroke-opacity="0.3" paint-order="stroke">2500</text>
<line x1="405.41" y1="512.8" x2="405.41" y2="513.8" stroke="#828282" stroke-width="0.9"/>
<line x1="418.77" y1="512.8" x2="418.77" y2="515.2" stroke="#828282" stroke-width="0.9"/>
<text x="419.07" y="522.3" font-size="6.5" text-anchor="middle" textLength="12.2" lengthAdjust="spacingAndGlyphs" stroke="#303030" stroke-width="0.7" stroke-opacity="0.3" paint-order="stroke">3000</text>
<line x1="432.14" y1="512.8" x2="432.14" y2="513.8" stroke="#828282" stroke-width="0.9"/>
<line x1="445.5" y1="512.8" x2="445.5" y2="515.2" stroke="#828282" stroke-width="0.9"/>
<text x="445.8" y="522.3" font-size="6.5" text-anchor="middle" textLength="12.2" lengthAdjust="spacingAndGlyphs" stroke="#303030" stroke-width="0.7" stroke-opacity="0.3" paint-order="stroke">3500</text>
<line x1="258.4" y1="512.8" x2="256" y2="512.8" stroke="#828282" stroke-width="0.9"/>
<text x="253.6" y="515.4" font-size="6.5" text-anchor="end" textLength="3.1" lengthAdjust="spacingAndGlyphs" stroke="#303030" stroke-width="0.7" stroke-opacity="0.3" paint-order="stroke">0</text>
<line x1="258.4" y1="501.21" x2="257.4" y2="501.21" stroke="#828282" stroke-width="0.9"/>
<line x1="258.4" y1="489.62" x2="256" y2="489.62" stroke="#828282" stroke-width="0.9"/>
<text x="253.6" y="492.22" font-size="6.5" text-anchor="end" textLength="9.3" lengthAdjust="spacingAndGlyphs" stroke="#303030" stroke-width="0.7" stroke-opacity="0.3" paint-order="stroke">500</text>
<line x1="258.4" y1="478.02" x2="257.4" y2="478.02" stroke="#828282" stroke-width="0.9"/>
<line x1="258.4" y1="466.43" x2="256" y2="466.43" stroke="#828282" stroke-width="0.9"/>
<text x="253.6" y="469.03" font-size="6.5" text-anchor="end" textLength="12.4" lengthAdjust="spacingAndGlyphs" stroke="#303030" stroke-width="0.7" stroke-opacity="0.3" paint-order="stroke">1000</text>
<line x1="258.4" y1="454.84" x2="257.4" y2="454.84" stroke="#828282" stroke-width="0.9"/>
<line x1="258.4" y1="443.25" x2="256" y2="443.25" stroke="#828282" stroke-width="0.9"/>
<text x="253.6" y="445.85" font-size="6.5" text-anchor="end" textLength="12.4" lengthAdjust="spacingAndGlyphs" stroke="#303030" stroke-width="0.7" stroke-opacity="0.3" paint-order="stroke">1500</text>
<line x1="258.4" y1="431.66" x2="257.4" y2="431.66" stroke="#828282" stroke-width="0.9"/>
<line x1="258.4" y1="420.07" x2="256" y2="420.07" stroke="#828282" stroke-width="0.9"/>
<text x="253.6" y="422.67" font-size="6.5" text-anchor="end" textLength="12.4" lengthAdjust="spacingAndGlyphs" stroke="#303030" stroke-width="0.7" stroke-opacity="0.3" paint-order="stroke">2000</text>
<line x1="258.4" y1="408.47" x2="257.4" y2="408.47" stroke="#828282" stroke-width="0.9"/>
<line x1="258.4" y1="396.88" x2="256" y2="396.88" stroke="#828282" stroke-width="0.9"/>
<text x="253.6" y="399.48" font-size="6.5" text-anchor="end" textLength="12.4" lengthAdjust="spacingAndGlyphs" stroke="#303030" stroke-width="0.7" stroke-opacity="0.3" paint-order="stroke">2500</text>
<line x1="258.4" y1="385.29" x2="257.4" y2="385.29" stroke="#828282" stroke-width="0.9"/>
<line x1="258.4" y1="373.7" x2="256" y2="373.7" stroke="#828282" stroke-width="0.9"/>
<text x="253.6" y="376.3" font-size="6.5" text-anchor="end" textLength="12.4" lengthAdjust="spacingAndGlyphs" stroke="#303030" stroke-width="0.7" stroke-opacity="0.3" paint-order="stroke">3000</text>
<g transform="translate(125.52,134.1) rotate(-90)" font-size="7.6" stroke="#303030" stroke-width="0.75" stroke-opacity="0.5" paint-order="stroke"><text x="0" y="0" textLength="60.47" lengthAdjust="spacingAndGlyphs">Molar absorptivity (</text><text x="61.28" y="0" textLength="4.32" lengthAdjust="spacingAndGlyphs">L</text><text x="68.11" y="1.6" font-size="9" text-anchor="middle">&#8226;</text><text x="71.92" y="0" textLength="10.45" lengthAdjust="spacingAndGlyphs">mol</text><text x="82.77" y="-3.1" font-size="6.0" textLength="4.22" lengthAdjust="spacingAndGlyphs">-1</text><text x="90.61" y="1.6" font-size="9" text-anchor="middle">&#8226;</text><text x="93.32" y="0" textLength="9.24" lengthAdjust="spacingAndGlyphs">cm</text><text x="103.57" y="-3.1" font-size="6.0" textLength="4.22" lengthAdjust="spacingAndGlyphs">-1</text><text x="108.79" y="0" textLength="2.41" lengthAdjust="spacingAndGlyphs">)</text></g>
<g transform="translate(12.02,312.4) rotate(-90)" font-size="7.6" stroke="#303030" stroke-width="0.75" stroke-opacity="0.5" paint-order="stroke"><text x="0" y="0" textLength="60.47" lengthAdjust="spacingAndGlyphs">Molar absorptivity (</text><text x="61.28" y="0" textLength="4.32" lengthAdjust="spacingAndGlyphs">L</text><text x="68.11" y="1.6" font-size="9" text-anchor="middle">&#8226;</text><text x="71.92" y="0" textLength="10.45" lengthAdjust="spacingAndGlyphs">mol</text><text x="82.77" y="-3.1" font-size="6.0" textLength="4.22" lengthAdjust="spacingAndGlyphs">-1</text><text x="90.61" y="1.6" font-size="9" text-anchor="middle">&#8226;</text><text x="93.32" y="0" textLength="9.24" lengthAdjust="spacingAndGlyphs">cm</text><text x="103.57" y="-3.1" font-size="6.0" textLength="4.22" lengthAdjust="spacingAndGlyphs">-1</text><text x="108.79" y="0" textLength="2.41" lengthAdjust="spacingAndGlyphs">)</text></g>
<g transform="translate(236.62,311.4) rotate(-90)" font-size="7.6" stroke="#303030" stroke-width="0.75" stroke-opacity="0.5" paint-order="stroke"><text x="0" y="0" textLength="60.09" lengthAdjust="spacingAndGlyphs">Molar absorptivity (</text><text x="60.89" y="0" textLength="4.29" lengthAdjust="spacingAndGlyphs">L</text><text x="67.68" y="1.6" font-size="9" text-anchor="middle">&#8226;</text><text x="71.47" y="0" textLength="10.38" lengthAdjust="spacingAndGlyphs">mol</text><text x="82.25" y="-3.1" font-size="6.0" textLength="4.19" lengthAdjust="spacingAndGlyphs">-1</text><text x="90.04" y="1.6" font-size="9" text-anchor="middle">&#8226;</text><text x="92.73" y="0" textLength="9.18" lengthAdjust="spacingAndGlyphs">cm</text><text x="102.91" y="-3.1" font-size="6.0" textLength="4.19" lengthAdjust="spacingAndGlyphs">-1</text><text x="108.1" y="0" textLength="2.4" lengthAdjust="spacingAndGlyphs">)</text></g>
<g transform="translate(11.92,499.1) rotate(-90)" font-size="7.6" stroke="#303030" stroke-width="0.75" stroke-opacity="0.5" paint-order="stroke"><text x="0" y="0" textLength="59.66" lengthAdjust="spacingAndGlyphs">Molar absorptivity (</text><text x="60.45" y="0" textLength="4.26" lengthAdjust="spacingAndGlyphs">L</text><text x="67.19" y="1.6" font-size="9" text-anchor="middle">&#8226;</text><text x="70.95" y="0" textLength="10.31" lengthAdjust="spacingAndGlyphs">mol</text><text x="81.66" y="-3.1" font-size="6.0" textLength="4.16" lengthAdjust="spacingAndGlyphs">-1</text><text x="89.39" y="1.6" font-size="9" text-anchor="middle">&#8226;</text><text x="92.06" y="0" textLength="9.12" lengthAdjust="spacingAndGlyphs">cm</text><text x="102.17" y="-3.1" font-size="6.0" textLength="4.16" lengthAdjust="spacingAndGlyphs">-1</text><text x="107.32" y="0" textLength="2.38" lengthAdjust="spacingAndGlyphs">)</text></g>
<g transform="translate(236.62,499.1) rotate(-90)" font-size="7.6" stroke="#303030" stroke-width="0.75" stroke-opacity="0.5" paint-order="stroke"><text x="0" y="0" textLength="59.93" lengthAdjust="spacingAndGlyphs">Molar absorptivity (</text><text x="60.72" y="0" textLength="4.28" lengthAdjust="spacingAndGlyphs">L</text><text x="67.49" y="1.6" font-size="9" text-anchor="middle">&#8226;</text><text x="71.28" y="0" textLength="10.35" lengthAdjust="spacingAndGlyphs">mol</text><text x="82.03" y="-3.1" font-size="6.0" textLength="4.18" lengthAdjust="spacingAndGlyphs">-1</text><text x="89.79" y="1.6" font-size="9" text-anchor="middle">&#8226;</text><text x="92.48" y="0" textLength="9.16" lengthAdjust="spacingAndGlyphs">cm</text><text x="102.63" y="-3.1" font-size="6.0" textLength="4.18" lengthAdjust="spacingAndGlyphs">-1</text><text x="107.81" y="0" textLength="2.39" lengthAdjust="spacingAndGlyphs">)</text></g>
<text x="210.2" y="170.9" font-size="7.8" textLength="57.0" lengthAdjust="spacingAndGlyphs" stroke="#303030" stroke-width="0.75" stroke-opacity="0.5" paint-order="stroke">Wavenumber (cm</text><text x="267.9" y="167.6" font-size="4.8" textLength="3.2" lengthAdjust="spacingAndGlyphs" stroke="#303030" stroke-width="0.75" stroke-opacity="0.5" paint-order="stroke">-1</text><text x="272" y="170.9" font-size="7.8" textLength="2.3" lengthAdjust="spacingAndGlyphs" stroke="#303030" stroke-width="0.75" stroke-opacity="0.5" paint-order="stroke">)</text>
<text x="95.2" y="347.3" font-size="7.8" textLength="57.0" lengthAdjust="spacingAndGlyphs" stroke="#303030" stroke-width="0.75" stroke-opacity="0.5" paint-order="stroke">Wavenumber (cm</text><text x="152.9" y="344" font-size="4.8" textLength="3.2" lengthAdjust="spacingAndGlyphs" stroke="#303030" stroke-width="0.75" stroke-opacity="0.5" paint-order="stroke">-1</text><text x="157" y="347.3" font-size="7.8" textLength="2.3" lengthAdjust="spacingAndGlyphs" stroke="#303030" stroke-width="0.75" stroke-opacity="0.5" paint-order="stroke">)</text>
<text x="319.8" y="347.3" font-size="7.8" textLength="57.0" lengthAdjust="spacingAndGlyphs" stroke="#303030" stroke-width="0.75" stroke-opacity="0.5" paint-order="stroke">Wavenumber (cm</text><text x="377.5" y="344" font-size="4.8" textLength="3.2" lengthAdjust="spacingAndGlyphs" stroke="#303030" stroke-width="0.75" stroke-opacity="0.5" paint-order="stroke">-1</text><text x="381.6" y="347.3" font-size="7.8" textLength="2.3" lengthAdjust="spacingAndGlyphs" stroke="#303030" stroke-width="0.75" stroke-opacity="0.5" paint-order="stroke">)</text>
<text x="93.5" y="534.9" font-size="7.8" textLength="57.0" lengthAdjust="spacingAndGlyphs" stroke="#303030" stroke-width="0.75" stroke-opacity="0.5" paint-order="stroke">Wavenumber (cm</text><text x="151.2" y="531.6" font-size="4.8" textLength="3.2" lengthAdjust="spacingAndGlyphs" stroke="#303030" stroke-width="0.75" stroke-opacity="0.5" paint-order="stroke">-1</text><text x="155.3" y="534.9" font-size="7.8" textLength="2.3" lengthAdjust="spacingAndGlyphs" stroke="#303030" stroke-width="0.75" stroke-opacity="0.5" paint-order="stroke">)</text>
<text x="319.8" y="535" font-size="7.8" textLength="57.0" lengthAdjust="spacingAndGlyphs" stroke="#303030" stroke-width="0.75" stroke-opacity="0.5" paint-order="stroke">Wavenumber (cm</text><text x="377.5" y="531.7" font-size="4.8" textLength="3.2" lengthAdjust="spacingAndGlyphs" stroke="#303030" stroke-width="0.75" stroke-opacity="0.5" paint-order="stroke">-1</text><text x="381.6" y="535" font-size="7.8" textLength="2.3" lengthAdjust="spacingAndGlyphs" stroke="#303030" stroke-width="0.75" stroke-opacity="0.5" paint-order="stroke">)</text>
<text x="221.9" y="180.2" font-size="11.3" textLength="13.5" lengthAdjust="spacingAndGlyphs" stroke="#303030" stroke-width="0.45">(a)</text>
<text x="112.1" y="363.5" font-size="11.3" textLength="13.8" lengthAdjust="spacingAndGlyphs" stroke="#303030" stroke-width="0.45">(b)</text>
<text x="335.3" y="363.3" font-size="11.3" textLength="13.5" lengthAdjust="spacingAndGlyphs" stroke="#303030" stroke-width="0.45">(c)</text>
<text x="105" y="543.9" font-size="11.3" textLength="14.1" lengthAdjust="spacingAndGlyphs" stroke="#303030" stroke-width="0.45">(d)</text>
<text x="335.3" y="544.1" font-size="11.3" textLength="14.1" lengthAdjust="spacingAndGlyphs" stroke="#303030" stroke-width="0.45">(e)</text>
<text x="310.9" y="14.8" font-size="6.6" textLength="22.7" lengthAdjust="spacingAndGlyphs" stroke="#303030" stroke-width="0.75" stroke-opacity="0.5" paint-order="stroke">E=0 V/m</text>
<text x="169.2" y="195.4" font-size="6.6" textLength="47.4" lengthAdjust="spacingAndGlyphs" stroke="#303030" stroke-width="0.75" stroke-opacity="0.5" paint-order="stroke">E= -5.14&#8226;10<tspan font-size="4.6" dy="-2.6">9</tspan><tspan dy="2.6"> V/m</tspan></text>
<text x="400.4" y="193.4" font-size="6.6" textLength="42.6" lengthAdjust="spacingAndGlyphs" stroke="#303030" stroke-width="0.75" stroke-opacity="0.5" paint-order="stroke">E=5.14&#8226;10<tspan font-size="4.6" dy="-2.6">9</tspan><tspan dy="2.6"> V/m</tspan></text>
<text x="168.5" y="381.6" font-size="6.6" textLength="47.5" lengthAdjust="spacingAndGlyphs" stroke="#303030" stroke-width="0.75" stroke-opacity="0.5" paint-order="stroke">E =- 2.57&#8226;10<tspan font-size="4.6" dy="-2.6">7</tspan><tspan dy="2.6"> V/m</tspan></text>
<text x="392.7" y="382.2" font-size="6.6" textLength="45.9" lengthAdjust="spacingAndGlyphs" stroke="#303030" stroke-width="0.75" stroke-opacity="0.5" paint-order="stroke">E &#160;=2.57&#8226;10<tspan font-size="4.6" dy="-2.6">7</tspan><tspan dy="2.6"> V/m</tspan></text>
<text transform="translate(179.72,139.03) rotate(-90)" font-size="6.3" textLength="53.4" lengthAdjust="spacingAndGlyphs" stroke="#303030" stroke-width="0.7" stroke-opacity="0.3" paint-order="stroke">560.2, 560.4, 560.6</text>
<text transform="translate(200.62,53.79) rotate(-90)" font-size="6.3" textLength="17.4" lengthAdjust="spacingAndGlyphs" stroke="#303030" stroke-width="0.7" stroke-opacity="0.3" paint-order="stroke">1123.4</text>
<text transform="translate(244.67,62.45) rotate(-90)" font-size="6.3" textLength="16.9" lengthAdjust="spacingAndGlyphs" stroke="#303030" stroke-width="0.7" stroke-opacity="0.3" paint-order="stroke">1776.2</text>
<text transform="translate(236.67,107.52) rotate(-90)" font-size="6.3" textLength="16.9" lengthAdjust="spacingAndGlyphs" stroke="#303030" stroke-width="0.7" stroke-opacity="0.3" paint-order="stroke">1775.7</text>
<text transform="translate(257.57,109.79) rotate(-90)" font-size="6.3" textLength="17.7" lengthAdjust="spacingAndGlyphs" stroke="#303030" stroke-width="0.7" stroke-opacity="0.3" paint-order="stroke">1784.9</text>
<text transform="translate(292.62,118.75) rotate(-90)" font-size="6.3" textLength="17.5" lengthAdjust="spacingAndGlyphs" stroke="#303030" stroke-width="0.7" stroke-opacity="0.3" paint-order="stroke">2887.1</text>
<text transform="translate(326.52,124.32) rotate(-90)" font-size="6.3" textLength="18.9" lengthAdjust="spacingAndGlyphs" stroke="#303030" stroke-width="0.7" stroke-opacity="0.3" paint-order="stroke">3018.5</text>
<text transform="translate(65.62,317.76) rotate(-90)" font-size="6.3" textLength="53.7" lengthAdjust="spacingAndGlyphs" stroke="#303030" stroke-width="0.7" stroke-opacity="0.3" paint-order="stroke">560.2, 560.4, 560.7</text>
<text transform="translate(107.57,229.06) rotate(-90)" font-size="6.3" textLength="17.8" lengthAdjust="spacingAndGlyphs" stroke="#303030" stroke-width="0.7" stroke-opacity="0.3" paint-order="stroke">1121.6</text>
<text transform="translate(130.57,252.41) rotate(-90)" font-size="6.3" textLength="17.6" lengthAdjust="spacingAndGlyphs" stroke="#303030" stroke-width="0.7" stroke-opacity="0.3" paint-order="stroke">1779.5</text>
<text transform="translate(141.67,265.32) rotate(-90)" font-size="6.3" textLength="17" lengthAdjust="spacingAndGlyphs" stroke="#303030" stroke-width="0.7" stroke-opacity="0.3" paint-order="stroke">1786.4</text>
<text transform="translate(123.57,292.08) rotate(-90)" font-size="6.3" textLength="17.6" lengthAdjust="spacingAndGlyphs" stroke="#303030" stroke-width="0.7" stroke-opacity="0.3" paint-order="stroke">1774.5</text>
<text transform="translate(178.52,301.72) rotate(-90)" font-size="6.3" textLength="18.1" lengthAdjust="spacingAndGlyphs" stroke="#303030" stroke-width="0.7" stroke-opacity="0.3" paint-order="stroke">2885.0</text>
<text transform="translate(209.72,303.83) rotate(-90)" font-size="6.3" textLength="17.5" lengthAdjust="spacingAndGlyphs" stroke="#303030" stroke-width="0.7" stroke-opacity="0.3" paint-order="stroke">3020.4</text>
<text transform="translate(289.57,317.42) rotate(-90)" font-size="6.3" textLength="53.4" lengthAdjust="spacingAndGlyphs" stroke="#303030" stroke-width="0.7" stroke-opacity="0.3" paint-order="stroke">560.1, 560.3, 560.5</text>
<text transform="translate(308.67,233.55) rotate(-90)" font-size="6.3" textLength="17.3" lengthAdjust="spacingAndGlyphs" stroke="#303030" stroke-width="0.7" stroke-opacity="0.3" paint-order="stroke">1125.1</text>
<text transform="translate(356.62,242.23) rotate(-90)" font-size="6.3" textLength="17.1" lengthAdjust="spacingAndGlyphs" stroke="#303030" stroke-width="0.7" stroke-opacity="0.3" paint-order="stroke">1777.4</text>
<text transform="translate(346.67,304.33) rotate(-90)" font-size="6.3" textLength="19.5" lengthAdjust="spacingAndGlyphs" stroke="#303030" stroke-width="0.7" stroke-opacity="0.3" paint-order="stroke">1774.9</text>
<text transform="translate(362.62,291.81) rotate(-90)" font-size="6.3" textLength="19.5" lengthAdjust="spacingAndGlyphs" stroke="#303030" stroke-width="0.7" stroke-opacity="0.3" paint-order="stroke">1784.2</text>
<text transform="translate(401.67,298.83) rotate(-90)" font-size="6.3" textLength="18.8" lengthAdjust="spacingAndGlyphs" stroke="#303030" stroke-width="0.7" stroke-opacity="0.3" paint-order="stroke">2885.9</text>
<text transform="translate(434.67,296.61) rotate(-90)" font-size="6.3" textLength="18.4" lengthAdjust="spacingAndGlyphs" stroke="#303030" stroke-width="0.7" stroke-opacity="0.3" paint-order="stroke">3020.4</text>
<text transform="translate(63.62,504.6) rotate(-90)" font-size="6.3" textLength="52.1" lengthAdjust="spacingAndGlyphs" stroke="#303030" stroke-width="0.7" stroke-opacity="0.3" paint-order="stroke">559.7, 560.0, 560.4</text>
<text transform="translate(80.57,414.25) rotate(-90)" font-size="6.3" textLength="17.7" lengthAdjust="spacingAndGlyphs" stroke="#303030" stroke-width="0.7" stroke-opacity="0.3" paint-order="stroke">1116.5</text>
<text transform="translate(129.52,456.81) rotate(-90)" font-size="6.3" textLength="16.4" lengthAdjust="spacingAndGlyphs" stroke="#303030" stroke-width="0.7" stroke-opacity="0.3" paint-order="stroke">1776.2</text>
<text transform="translate(121.57,485.52) rotate(-90)" font-size="6.3" textLength="18.9" lengthAdjust="spacingAndGlyphs" stroke="#303030" stroke-width="0.7" stroke-opacity="0.3" paint-order="stroke">1764.4</text>
<text transform="translate(140.57,476.65) rotate(-90)" font-size="6.3" textLength="15.4" lengthAdjust="spacingAndGlyphs" stroke="#303030" stroke-width="0.7" stroke-opacity="0.3" paint-order="stroke">1795.9</text>
<text transform="translate(173.67,487.43) rotate(-90)" font-size="6.3" textLength="17.9" lengthAdjust="spacingAndGlyphs" stroke="#303030" stroke-width="0.7" stroke-opacity="0.3" paint-order="stroke">2872.1</text>
<text transform="translate(206.67,499.69) rotate(-90)" font-size="6.3" textLength="18.2" lengthAdjust="spacingAndGlyphs" stroke="#303030" stroke-width="0.7" stroke-opacity="0.3" paint-order="stroke">3025.6</text>
<text transform="translate(290.72,504.1) rotate(-90)" font-size="6.3" textLength="52.1" lengthAdjust="spacingAndGlyphs" stroke="#303030" stroke-width="0.7" stroke-opacity="0.3" paint-order="stroke">560.3, 560.9, 562.4</text>
<text transform="translate(332.72,407.15) rotate(-90)" font-size="6.3" textLength="19" lengthAdjust="spacingAndGlyphs" stroke="#303030" stroke-width="0.7" stroke-opacity="0.3" paint-order="stroke">1131.5</text>
<text transform="translate(355.72,454.93) rotate(-90)" font-size="6.3" textLength="18.2" lengthAdjust="spacingAndGlyphs" stroke="#303030" stroke-width="0.7" stroke-opacity="0.3" paint-order="stroke">1771.2</text>
<text transform="translate(347.62,487.88) rotate(-90)" font-size="6.3" textLength="18.3" lengthAdjust="spacingAndGlyphs" stroke="#303030" stroke-width="0.7" stroke-opacity="0.3" paint-order="stroke">1760.3</text>
<text transform="translate(362.62,494.07) rotate(-90)" font-size="6.3" textLength="18.3" lengthAdjust="spacingAndGlyphs" stroke="#303030" stroke-width="0.7" stroke-opacity="0.3" paint-order="stroke">1790.5</text>
<text transform="translate(400.62,497.89) rotate(-90)" font-size="6.3" textLength="17.7" lengthAdjust="spacingAndGlyphs" stroke="#303030" stroke-width="0.7" stroke-opacity="0.3" paint-order="stroke">2889.5</text>
<text transform="translate(434.52,496.9) rotate(-90)" font-size="6.3" textLength="17.7" lengthAdjust="spacingAndGlyphs" stroke="#303030" stroke-width="0.7" stroke-opacity="0.3" paint-order="stroke">3062.2</text>
<path d="M197,33.9 Q201.5,26.5 206.2,32.6" fill="none" stroke="#3a3a3a" stroke-width="0.6"/><path d="M206.69,33.23 L203.79,31.68 L205.93,30.03 Z" fill="#1e1e1e"/>
<path d="M234.1,89.1 Q236.5,84.5 241.6,87.7" fill="none" stroke="#3a3a3a" stroke-width="0.6"/><path d="M242.28,88.13 L239.02,87.67 L240.45,85.39 Z" fill="#1e1e1e"/>
<path d="M255.2,91.1 Q253.5,84.5 245.7,87" fill="none" stroke="#3a3a3a" stroke-width="0.6"/><path d="M244.94,87.24 L247.38,85.04 L248.21,87.61 Z" fill="#1e1e1e"/>
<path d="M290.7,119.7 Q292.5,123.8 300.6,123.4" fill="none" stroke="#3a3a3a" stroke-width="0.6"/><path d="M301.4,123.36 L298.47,124.86 L298.34,122.16 Z" fill="#1e1e1e"/>
<path d="M323.7,125.2 Q318,127.5 312.1,123.8" fill="none" stroke="#3a3a3a" stroke-width="0.6"/><path d="M311.42,123.37 L314.68,123.83 L313.25,126.11 Z" fill="#1e1e1e"/>
<path d="M175.8,146.3 Q176.8,144.5 177.8,142.8" fill="none" stroke="#3a3a3a" stroke-width="0.6"/><path d="M178.21,142.11 L177.85,145.38 L175.52,144.01 Z" fill="#1e1e1e"/>
<path d="M103.8,209.5 Q100,201.5 95.2,206" fill="none" stroke="#3a3a3a" stroke-width="0.6"/><path d="M94.62,206.55 L95.88,203.51 L97.73,205.48 Z" fill="#1e1e1e"/>
<path d="M122.7,273.7 Q123.5,269.5 126.2,268.4" fill="none" stroke="#3a3a3a" stroke-width="0.6"/><path d="M126.94,268.1 L124.67,270.48 L123.65,267.98 Z" fill="#1e1e1e"/>
<path d="M139.2,267.2 Q137.5,271 133.9,270.7" fill="none" stroke="#3a3a3a" stroke-width="0.6"/><path d="M133.1,270.63 L136.2,269.54 L135.98,272.23 Z" fill="#1e1e1e"/>
<path d="M176.5,302.6 Q178.5,307.5 185.7,307.5" fill="none" stroke="#3a3a3a" stroke-width="0.6"/><path d="M186.5,307.5 L183.5,308.85 L183.5,306.15 Z" fill="#1e1e1e"/>
<path d="M207.7,305.3 Q202.5,308.5 196.7,305.7" fill="none" stroke="#3a3a3a" stroke-width="0.6"/><path d="M195.98,305.35 L199.27,305.44 L198.09,307.87 Z" fill="#1e1e1e"/>
<path d="M61.8,323.5 Q62.8,321.7 63.8,320" fill="none" stroke="#3a3a3a" stroke-width="0.6"/><path d="M64.21,319.31 L63.85,322.58 L61.52,321.21 Z" fill="#1e1e1e"/>
<path d="M306.5,213.8 Q310.5,203.5 317.4,210.9" fill="none" stroke="#3a3a3a" stroke-width="0.6"/><path d="M317.95,211.49 L314.91,210.21 L316.89,208.37 Z" fill="#1e1e1e"/>
<path d="M345.7,282.2 Q346.5,280 349.8,281.4" fill="none" stroke="#3a3a3a" stroke-width="0.6"/><path d="M350.54,281.71 L347.25,281.78 L348.3,279.3 Z" fill="#1e1e1e"/>
<path d="M360.5,271.6 Q360,268 356.4,268.3" fill="none" stroke="#3a3a3a" stroke-width="0.6"/><path d="M355.6,268.37 L358.48,266.77 L358.7,269.46 Z" fill="#1e1e1e"/>
<path d="M400.2,300.2 Q402.5,304 409.9,303.4" fill="none" stroke="#3a3a3a" stroke-width="0.6"/><path d="M410.7,303.34 L407.82,304.92 L407.6,302.23 Z" fill="#1e1e1e"/>
<path d="M432.9,297.4 Q427,300.5 421.9,297.4" fill="none" stroke="#3a3a3a" stroke-width="0.6"/><path d="M421.22,296.98 L424.48,297.39 L423.08,299.7 Z" fill="#1e1e1e"/>
<path d="M286.8,323.5 Q287.6,321.7 288.6,320" fill="none" stroke="#3a3a3a" stroke-width="0.6"/><path d="M289.01,319.31 L288.65,322.58 L286.32,321.21 Z" fill="#1e1e1e"/>
<path d="M83.1,396.4 Q86.5,388.5 91.5,394.1" fill="none" stroke="#3a3a3a" stroke-width="0.6"/><path d="M92.03,394.7 L89.03,393.36 L91.04,391.56 Z" fill="#1e1e1e"/>
<path d="M121,466 Q121.5,462.5 124,463.5" fill="none" stroke="#3a3a3a" stroke-width="0.6"/><path d="M124.74,463.8 L121.46,463.94 L122.46,461.43 Z" fill="#1e1e1e"/>
<path d="M137.5,477.5 Q136,480 132,479" fill="none" stroke="#3a3a3a" stroke-width="0.6"/><path d="M131.22,478.81 L134.46,478.22 L133.81,480.84 Z" fill="#1e1e1e"/>
<path d="M171.9,489.4 Q173.5,493.5 180,492.8" fill="none" stroke="#3a3a3a" stroke-width="0.6"/><path d="M180.8,492.71 L177.96,494.38 L177.67,491.69 Z" fill="#1e1e1e"/>
<path d="M205.6,502.1 Q200,504.5 194.7,501.2" fill="none" stroke="#3a3a3a" stroke-width="0.6"/><path d="M194.02,500.78 L197.28,501.22 L195.85,503.51 Z" fill="#1e1e1e"/>
<path d="M60.7,510.6 Q61.7,509 62.9,507.3" fill="none" stroke="#3a3a3a" stroke-width="0.6"/><path d="M63.36,506.65 L62.73,509.88 L60.53,508.32 Z" fill="#1e1e1e"/>
<path d="M329.8,385.4 Q324.6,371.8 319.7,381.3" fill="none" stroke="#3a3a3a" stroke-width="0.6"/><path d="M319.33,382.01 L319.51,378.73 L321.91,379.96 Z" fill="#1e1e1e"/>
<path d="M346.5,467.5 Q347,465 350,466.3" fill="none" stroke="#3a3a3a" stroke-width="0.6"/><path d="M350.73,466.62 L347.44,466.66 L348.52,464.19 Z" fill="#1e1e1e"/>
<path d="M360.1,475.1 Q359.5,470.5 356.5,469.8" fill="none" stroke="#3a3a3a" stroke-width="0.6"/><path d="M355.72,469.62 L358.95,468.99 L358.34,471.61 Z" fill="#1e1e1e"/>
<path d="M399.9,500.7 Q401.5,504.8 409.3,504.4" fill="none" stroke="#3a3a3a" stroke-width="0.6"/><path d="M410.1,504.36 L407.17,505.86 L407.03,503.16 Z" fill="#1e1e1e"/>
<path d="M433.6,499.2 Q427.5,501.5 422.2,499.2" fill="none" stroke="#3a3a3a" stroke-width="0.6"/><path d="M421.47,498.88 L424.76,498.84 L423.68,501.31 Z" fill="#1e1e1e"/>
<path d="M287.6,511 Q287.9,509 288.3,506.5" fill="none" stroke="#3a3a3a" stroke-width="0.6"/><path d="M288.43,505.71 L289.29,508.89 L286.62,508.46 Z" fill="#1e1e1e"/>
</svg>
</body></html>
